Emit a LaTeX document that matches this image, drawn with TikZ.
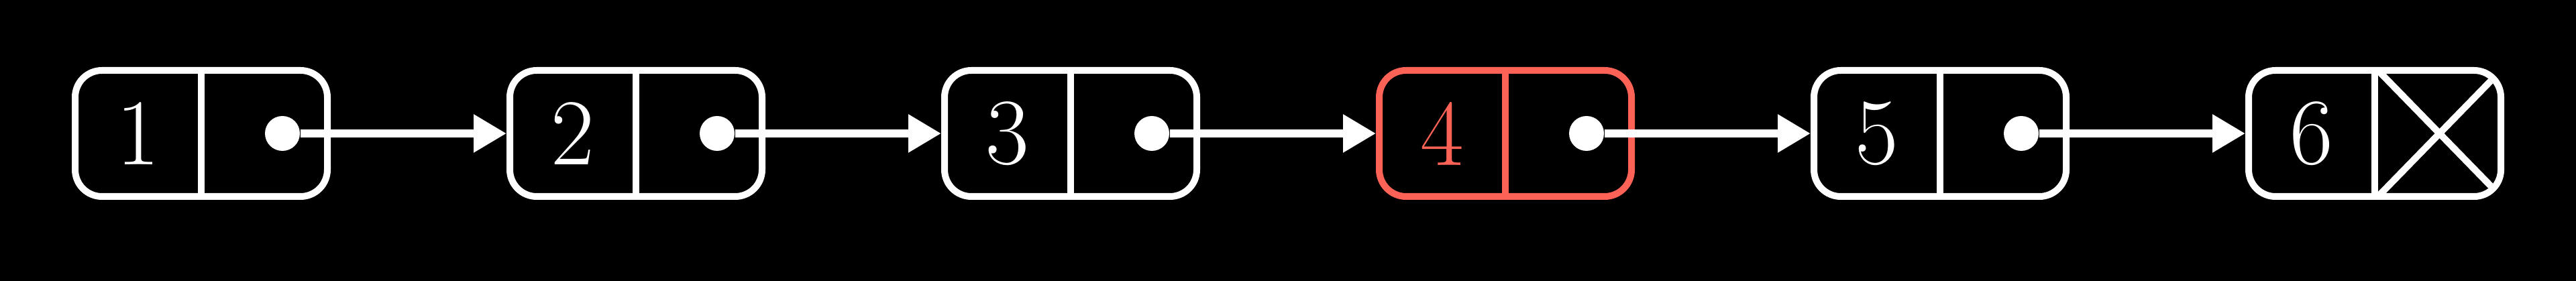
\documentclass[tikz,border=0pt]{standalone}
\usepackage{fontspec}
\usepackage{tikz}
\usetikzlibrary{positioning, arrows.meta, calc}
\definecolor{mred}{HTML}{FC6255}

\begin{document}
\begin{tikzpicture}[
        cell/.style={draw=#1,line width=1mm,rounded corners=4mm,minimum width=37.6mm,minimum height=18.8mm,inner sep=0pt},
        val/.style={text=#1,font=\fontsize{40}{48}\selectfont,inner sep=0pt},
        ptr/.style={circle,fill=white,minimum size=5.2mm,inner sep=0pt},
        link/.style={-{Triangle[length=4.9mm,width=5.4mm]},color=white,line width=1.2mm}]
        \fill[black] (0,0) rectangle (38.4,4.19);
        \foreach \n/\c in {1/white,2/white,3/white,4/mred,5/white,6/white}{
            \node[cell=\c] (b\n) at ({3+6.48*(\n-1)},2.2) {};
            \draw[draw=\c,line width=1mm] (b\n.north) -- (b\n.south);
            \node[val=\c] (v\n) at ($(b\n.center)+(-0.94,0)$) {\n};
        }
        \foreach \n in {1,...,5}
            \node[ptr] (p\n) at ($(b\n.center)+(1.21,0)$) {};
        % null pointer
        \begin{scope}
            \clip[rounded corners=3.5mm] ($(b6.south west)+(0.1,0.1)$) rectangle ($(b6.north east)-(0.1,0.1)$);
            \draw[white,line width=1mm] (b6.north) -- (b6.south east)
                                        (b6.south) -- (b6.north east);
        \end{scope}

        \path[link] (p1) edge [] (b2)
                    (p2) edge [] (b3)
                    (p3) edge [] (b4)
                    (p4) edge [] (b5)
                    (p5) edge [] (b6);
    \end{tikzpicture}
\end{document}
